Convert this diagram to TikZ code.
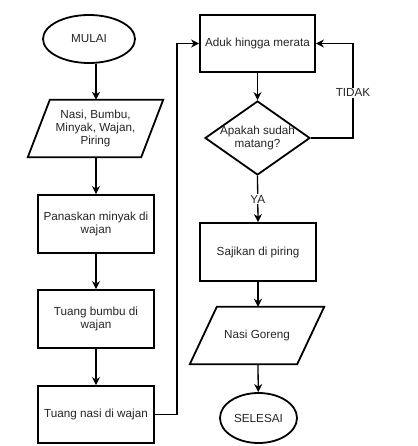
\documentclass[tikz,border=0pt]{standalone}
\usepackage{fontspec}
\setmainfont{Liberation Sans}
\usetikzlibrary{shapes.geometric,arrows.meta,calc}
\begin{document}
\begin{tikzpicture}[x=1pt,y=-1pt,
  every node/.style={font=\fontsize{11.7}{13}\selectfont, text=black!85, align=center},
  shp/.style={draw, line width=1.8pt, inner sep=0pt},
  shpline/.style={line width=1.8pt, line join=miter},
  term/.style={shp, ellipse},
  proc/.style={shp, rectangle},
  io/.style={rectangle, inner sep=0pt},
  decision/.style={shp, diamond},
  arr/.style={line width=1.3pt, -{Stealth[length=8pt,width=8pt,inset=2.5pt]}},
  lbl/.style={fill=white, inner sep=1pt}
]
\useasboundingbox[fill=white] (0,0) rectangle (417,446);
% left column
\node[term, minimum width=92pt, minimum height=48pt] (mulai) at (89,39) {MULAI};
\node[io, minimum width=135pt, minimum height=57pt] (input) at (95.5,128.5) {Nasi, Bumbu,\\Minyak, Wajan,\\Piring};
\draw[shpline] ([xshift=22pt]input.north west) -- (input.north east) -- ([xshift=-22pt]input.south east) -- (input.south west) -- cycle;
\node[proc, minimum width=116pt, minimum height=58pt] (panas) at (96,224) {Panaskan minyak di\\wajan};
\node[proc, minimum width=116pt, minimum height=58pt] (bumbu) at (96,319) {Tuang bumbu di\\wajan};
\node[proc, minimum width=116pt, minimum height=57pt] (nasi) at (96,414.5) {Tuang nasi di wajan};
% right column
\node[proc, minimum width=115pt, minimum height=57pt] (aduk) at (257.5,43.5) {Aduk hingga merata};
\node[decision, minimum width=105pt, minimum height=74pt] (cek) at (257.5,138) {\makebox[0pt][c]{\shortstack{Apakah sudah\\matang?}}};
\node[proc, minimum width=116pt, minimum height=58pt] (saji) at (258,252) {Sajikan di piring};
\node[io, minimum width=134pt, minimum height=57pt] (hasil) at (257,335.5) {Nasi Goreng};
\draw[shpline] ([xshift=27pt]hasil.north west) -- (hasil.north east) -- ([xshift=-27pt]hasil.south east) -- (hasil.south west) -- cycle;
\node[term, minimum width=77pt, minimum height=50pt] (selesai) at (258.5,418) {SELESAI};
\coordinate (jl) at (177,0);
\coordinate (jr) at (353,0);
% connectors
\draw[arr] (mulai.south -| panas.north) -- (input.north -| panas.north);
\draw[arr] (input.south -| panas.north) -- (panas.north);
\draw[arr] (panas) -- (bumbu);
\draw[arr] (bumbu) -- (nasi);
\draw[arr] (nasi.east) -- (nasi.east -| jl) -- (aduk.west -| jl) -- (aduk.west);
\draw[arr] (aduk) -- (cek);
\draw[arr] (cek.east) -- (cek.east -| jr) -- node[lbl, pos=0.48]{TIDAK} (aduk.east -| jr) -- (aduk.east);
\draw[arr] (cek.south) -- node[lbl, pos=0.5]{YA} (saji.north);
\draw[arr] (saji) -- (hasil.north -| saji.south);
\draw[arr] (hasil.south -| saji.south) -- (selesai);
\end{tikzpicture}
\end{document}
